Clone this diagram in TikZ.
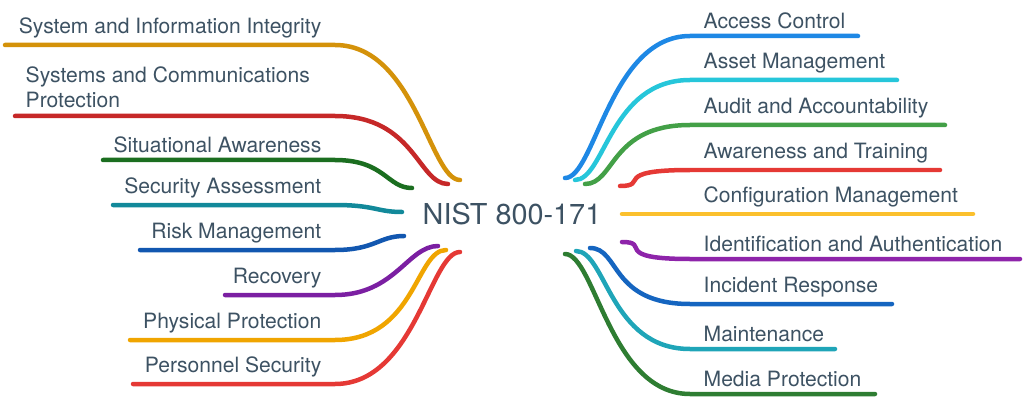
\documentclass[tikz,border=0pt]{standalone}
\usepackage{fontspec}
\setmainfont{TeX Gyre Heros}
\usepackage{xcolor}
\usetikzlibrary{calc}
\definecolor{txt}{HTML}{3D5263}
\definecolor{cblue}{HTML}{1E88E5}
\definecolor{ccyan}{HTML}{26C6DA}
\definecolor{cgreen}{HTML}{43A047}
\definecolor{cred}{HTML}{E53935}
\definecolor{cyellow}{HTML}{FBC02D}
\definecolor{cpurple}{HTML}{8E24AA}
\definecolor{cnavy}{HTML}{1565C0}
\definecolor{cteal}{HTML}{1FA5B8}
\definecolor{cdgreen}{HTML}{2E7D32}
\definecolor{cgold}{HTML}{D4920A}
\definecolor{cdred}{HTML}{C62828}
\definecolor{cforest}{HTML}{1B6E20}
\definecolor{cpetrol}{HTML}{12899A}
\definecolor{cmblue}{HTML}{1257B0}
\definecolor{cviolet}{HTML}{7B1FA2}
\definecolor{corange}{HTML}{F0A500}
\tikzstyle{leaf} = [inner sep=1pt, text=txt, font=\fontsize{15}{18}\selectfont]
\tikzstyle{branch} = [line width=3.2pt, line cap=round]
\newcommand{\rbranch}[3]{\draw [branch, #3] (#1) .. controls ($(#1)+(30,0)$) and ($(#2)+(-80,0)$) .. (#2)}
\begin{document}
\begin{tikzpicture}[x=0.025cm, y=-0.025cm]
    \useasboundingbox (0,0) rectangle (1024,400);
    \node (nist) [text=txt, font=\fontsize{20.5}{24}\selectfont] at (512,214) {NIST 800-171};
    % right side
    \coordinate (s1) at (565,178); \coordinate (b1) at (690,36);  \coordinate (e1) at (858,36);
    \coordinate (s2) at (575,180); \coordinate (b2) at (690,80);  \coordinate (e2) at (897,80);
    \coordinate (s3) at (585,184); \coordinate (b3) at (690,125); \coordinate (e3) at (945,125);
    \coordinate (s4) at (620,186); \coordinate (b4) at (690,170); \coordinate (e4) at (940,170);
    \coordinate (s5) at (622,214); \coordinate (b5) at (690,214); \coordinate (e5) at (973,214);
    \coordinate (s6) at (622,242); \coordinate (b6) at (690,259); \coordinate (e6) at (1020,259);
    \coordinate (s7) at (590,248); \coordinate (b7) at (690,304); \coordinate (e7) at (892,304);
    \coordinate (s8) at (576,251); \coordinate (b8) at (690,349); \coordinate (e8) at (835,349);
    \coordinate (s9) at (565,254); \coordinate (b9) at (690,394); \coordinate (e9) at (875,394);
    \node (ac) [leaf, anchor=south west] at (702,31) {Access Control};
    \node (am) [leaf, anchor=south west] at (702,75) {Asset Management};
    \node (aa) [leaf, anchor=south west] at (702,120) {Audit and Accountability};
    \node (at) [leaf, anchor=south west] at (702,165) {Awareness and Training};
    \node (cm) [leaf, anchor=south west] at (702,209) {Configuration Management};
    \node (ia) [leaf, anchor=south west] at (702,254) {Identification and Authentication};
    \node (ir) [leaf, anchor=south west] at (702,299) {Incident Response};
    \node (ma) [leaf, anchor=south west] at (702,344) {Maintenance};
    \node (mp) [leaf, anchor=south west] at (702,389) {Media Protection};
    \rbranch{s1}{b1}{cblue} -- (e1);
    \rbranch{s2}{b2}{ccyan} -- (e2);
    \rbranch{s3}{b3}{cgreen} -- (e3);
    \rbranch{s4}{b4}{cred} -- (e4);
    \rbranch{s5}{b5}{cyellow} -- (e5);
    \rbranch{s6}{b6}{cpurple} -- (e6);
    \rbranch{s7}{b7}{cnavy} -- (e7);
    \rbranch{s8}{b8}{cteal} -- (e8);
    \rbranch{s9}{b9}{cdgreen} -- (e9);
    % left side
    \coordinate (t1) at (460,180); \coordinate (c1) at (335,45);  \coordinate (f1) at (5,45);
    \coordinate (t2) at (448,184); \coordinate (c2) at (335,116); \coordinate (f2) at (15,116);
    \coordinate (t3) at (412,188); \coordinate (c3) at (335,160); \coordinate (f3) at (103,160);
    \coordinate (t4) at (402,212); \coordinate (c4) at (335,205); \coordinate (f4) at (113,205);
    \coordinate (t5) at (404,236); \coordinate (c5) at (335,250); \coordinate (f5) at (140,250);
    \coordinate (t6) at (438,246); \coordinate (c6) at (335,295); \coordinate (f6) at (225,295);
    \coordinate (t7) at (446,250); \coordinate (c7) at (335,340); \coordinate (f7) at (130,340);
    \coordinate (t8) at (460,252); \coordinate (c8) at (335,384); \coordinate (f8) at (133,384);
    \node (si) [leaf, anchor=south east] at (323,40) {System and Information Integrity};
    \node (sc) [leaf, anchor=south west, align=left] at (24,110) {Systems and Communications\\Protection};
    \node (sa) [leaf, anchor=south east] at (323,155) {Situational Awareness};
    \node (se) [leaf, anchor=south east] at (323,200) {Security Assessment};
    \node (rm) [leaf, anchor=south east] at (323,245) {Risk Management};
    \node (re) [leaf, anchor=south east] at (323,290) {Recovery};
    \node (pp) [leaf, anchor=south east] at (323,335) {Physical Protection};
    \node (ps) [leaf, anchor=south east] at (323,379) {Personnel Security};
    \draw [branch, cgold] (f1) -- (c1) .. controls ($(c1)+(80,0)$) and ($(t1)+(-30,0)$) .. (t1);
    \draw [branch, cdred] (f2) -- (c2) .. controls ($(c2)+(80,0)$) and ($(t2)+(-30,0)$) .. (t2);
    \draw [branch, cforest] (f3) -- (c3) .. controls ($(c3)+(50,0)$) and ($(t3)+(-25,0)$) .. (t3);
    \draw [branch, cpetrol] (f4) -- (c4) .. controls ($(c4)+(40,0)$) and ($(t4)+(-25,0)$) .. (t4);
    \draw [branch, cmblue] (f5) -- (c5) .. controls ($(c5)+(40,0)$) and ($(t5)+(-25,0)$) .. (t5);
    \draw [branch, cviolet] (f6) -- (c6) .. controls ($(c6)+(60,0)$) and ($(t6)+(-30,0)$) .. (t6);
    \draw [branch, corange] (f7) -- (c7) .. controls ($(c7)+(80,0)$) and ($(t7)+(-30,0)$) .. (t7);
    \draw [branch, cred] (f8) -- (c8) .. controls ($(c8)+(80,0)$) and ($(t8)+(-30,0)$) .. (t8);
\end{tikzpicture}
\end{document}
